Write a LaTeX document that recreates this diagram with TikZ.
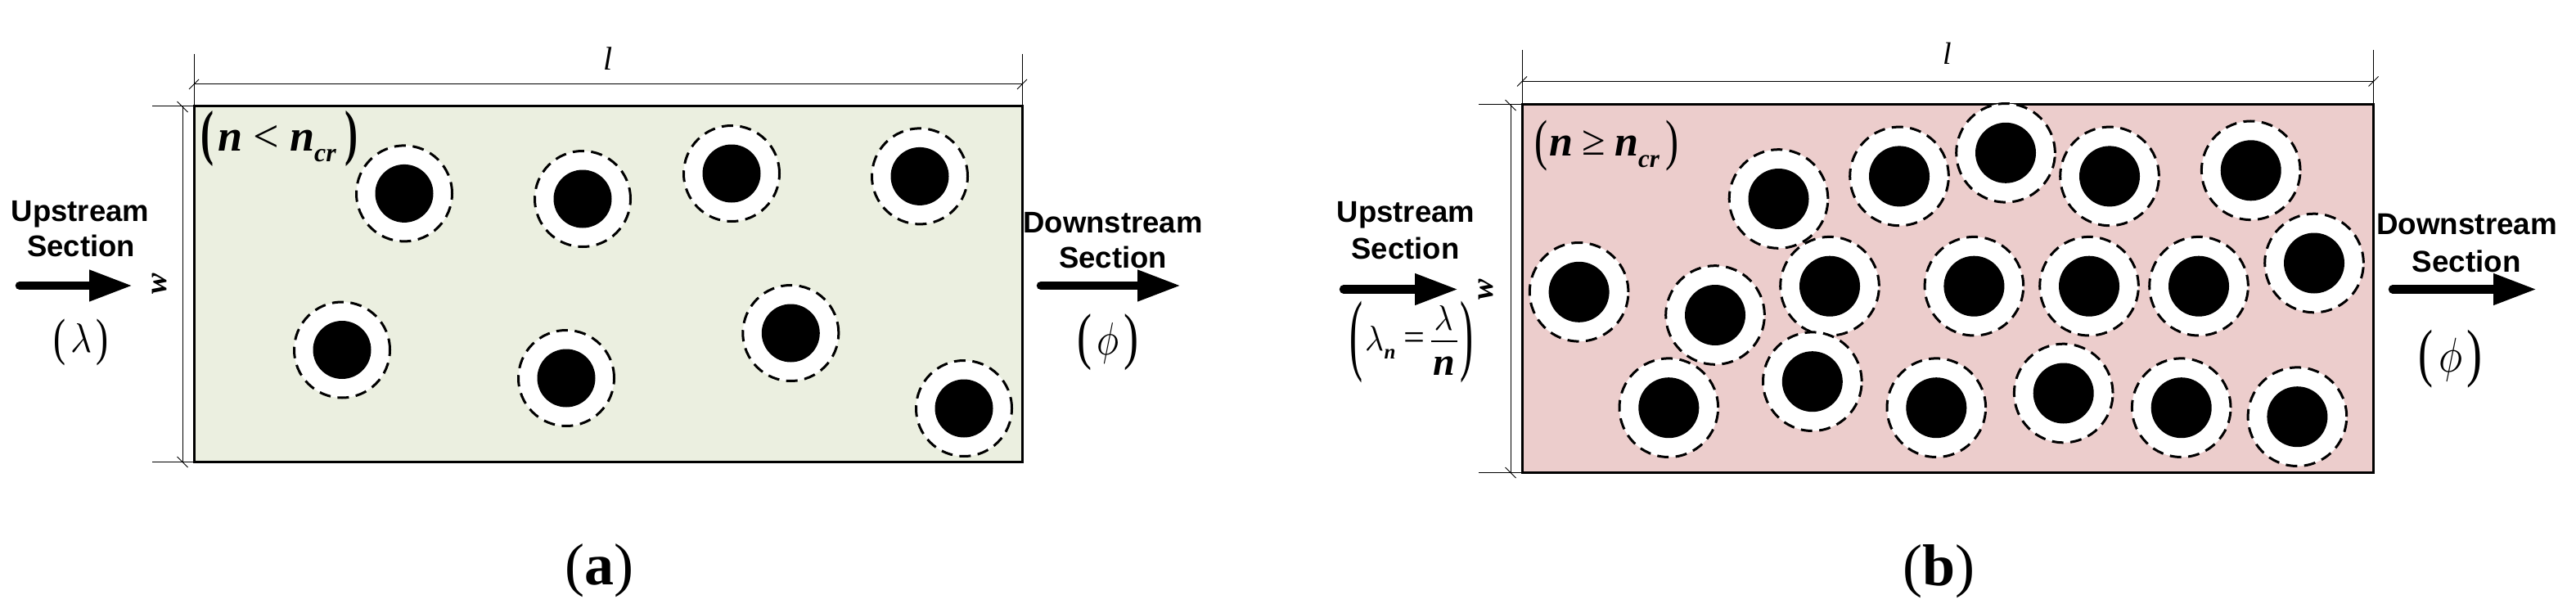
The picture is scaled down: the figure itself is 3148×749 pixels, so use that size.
\documentclass[tikz,border=0pt]{standalone}
\usepackage{fontspec}
\usepackage{graphicx}
\usepackage{amsmath}
\setmainfont{Liberation Serif}
\newfontfamily\headfont{Liberation Sans}[Ligatures=TeX]
\usetikzlibrary{arrows.meta}
\definecolor{panelgreen}{RGB}{235,239,224}
\definecolor{panelpink}{RGB}{236,205,204}
\newcommand{\fsz}[1]{\fontsize{#1}{#1}\selectfont}
\newcommand{\bi}[2]{{\fsz{#1}\bfseries\itshape #2}}
\newcommand{\tall}[3]{\resizebox*{#1pt}{#2pt}{#3}}
\tikzset{
  x=1pt,y=-1pt,
  panela/.style={draw=black,line width=3pt,fill=panelgreen,rectangle,anchor=north west,inner sep=0pt,outer sep=0pt,minimum width=1012.5pt,minimum height=434pt},
  panelb/.style={draw=black,line width=3pt,fill=panelpink,rectangle,anchor=north west,inner sep=0pt,outer sep=0pt,minimum width=1040.5pt,minimum height=449.5pt},
  halo/.style={circle,fill=white,draw=black,line width=3pt,dash pattern=on 14pt off 8.5pt,inner sep=0pt,outer sep=0pt},
  core/.style={circle,fill=black,inner sep=0pt,outer sep=0pt},
  dim/.style={draw=black,line width=1pt},
  flow/.style={line width=10.5pt,line cap=round,-{Triangle[length=53pt,width=36pt]}},
  head/.style={font=\headfont\bfseries\fsz{36.5},anchor=base,inner sep=0pt},
  txt/.style={anchor=center,inner sep=0pt},
  base/.style={anchor=base,inner sep=0pt},
  basew/.style={anchor=base west,inner sep=0pt},
}
\begin{document}
\begin{tikzpicture}
\useasboundingbox (0,0) rectangle (3148,749);
\fill[white] (0,0) rectangle (3148,749);

% ---------- panel (a)
\node[panela] (pa) at (237,130) {};
\foreach \n/\x/\y in {1/494/236.4,2/712/243,3/418/427.5,4/692/462,5/894/212,6/1124/215.4,7/966.3/407,8/1178/499}{
  \node[halo,minimum size=117pt] (ha\n) at (\x,\y) {};
  \node[core,minimum size=71pt] (ca\n) at (\x,\y) {};
}
% dimensions (a)
\coordinate (aT) at (237,103);
\coordinate (aTr) at (1249,103);
\coordinate (aL) at (223,130.5);
\coordinate (aLb) at (223,564.5);
\draw[dim] (aT) -- (aTr);
\draw[dim] (pa.north west) -- ++(0,-64);
\draw[dim] (pa.north east) -- ++(0,-64);
\draw[dim] (aT) ++(-6,6) -- ++(12,-12);
\draw[dim] (aTr) ++(-6,6) -- ++(12,-12);
\draw[dim] (aL) -- (aLb);
\draw[dim] (pa.north west) -- ++(-51,0);
\draw[dim] (pa.south west) -- ++(-51,0);
\draw[dim] (aL) ++(-6.5,-6.5) -- ++(13,13);
\draw[dim] (aLb) ++(-6.5,-6.5) -- ++(13,13);
\node[txt] (la) at (743,72) {\fsz{40}\itshape l};
\node[txt,rotate=90] (wa) at (195,347) {\bi{38}{w}};

\node[txt] (lpa) at (253,169) {\tall{16}{68}{\bfseries (}};
\node[basew] (na) at (266,184) {\bi{54}{n}};
\node[txt] (lta) at (325,169) {\fsz{56}<};
\node[basew] (nb) at (354,184) {\bi{54}{n}};
\node[basew] (cra) at (384,197) {\bi{32}{cr}};
\node[txt] (rpa) at (429,169) {\tall{16}{68}{\bfseries )}};

% left/right of (a)
\node[head] (ua1) at (98,270) {Upstream};
\node[head] (ua2) at (99,313) {Section};
\coordinate (fa1) at (24,349);
\coordinate (fa2) at (162,349);
\draw[flow] (fa1) -- (fa2);
\node[txt] (lpb) at (72.5,418) {\tall{15}{57}{(}};
\node[txt] (lam) at (100,412.7) {\tall{26}{35}{$\lambda$}};
\node[txt] (rpb) at (125,418) {\tall{15}{57}{)}};

\node[head] (da1) at (1360,284) {Downstream};
\node[head] (da2) at (1360,327) {Section};
\coordinate (fb1) at (1272,349);
\coordinate (fb2) at (1443,349);
\draw[flow] (fb1) -- (fb2);
\node[txt] (lpc) at (1325.5,418) {\tall{18}{69}{(}};
\node[txt] (phia) at (1353.5,419) {\tall{27}{50}{$\phi$}};
\node[txt] (rpc) at (1382,418) {\tall{18}{69}{)}};

\node[base] (capa) at (732.5,714) {\fsz{72}(\textbf{a})};

% ---------- panel (b)
\node[panelb] (pb) at (1860,128) {};
\foreach \n/\x/\y in {A/1929.6/356.8,B/2096/385,C/2039.3/498.2,D/2173.5/243,E/2236/349.7,F/2214.8/466.2,G/2321/215.4,H/2366.3/498.2,I/2412.4/349.7,J/2451/186.8,K/2578/215.4,L/2750.7/208.3,M/2828/321.5,N/2553/349.7,O/2687/349.7,P/2521.7/480.5,Q/2665.7/498.2,R/2807.4/509.2}{
  \node[halo,minimum size=120.6pt] (hb\n) at (\x,\y) {};
  \node[core,minimum size=74pt] (cb\n) at (\x,\y) {};
}
% dimensions (b)
\coordinate (bT) at (1860,99.5);
\coordinate (bTr) at (2900.5,99.5);
\coordinate (bL) at (1846,128.5);
\coordinate (bLb) at (1846,577.5);
\draw[dim] (bT) -- (bTr);
\draw[dim] (pb.north west) -- ++(0,-67);
\draw[dim] (pb.north east) -- ++(0,-67);
\draw[dim] (bT) ++(-6,6) -- ++(12,-12);
\draw[dim] (bTr) ++(-6,6) -- ++(12,-12);
\draw[dim] (bL) -- (bLb);
\draw[dim] (pb.north west) -- ++(-53,0);
\draw[dim] (pb.south west) -- ++(-53,0);
\draw[dim] (bL) ++(-6.5,-6.5) -- ++(13,13);
\draw[dim] (bLb) ++(-6.5,-6.5) -- ++(13,13);
\node[txt] (lb) at (2379.6,65) {\fsz{38}\itshape l};
\node[txt,rotate=90] (wb) at (1816,353.5) {\bi{38}{w}};

\node[txt] (lpd) at (1883,178) {\tall{16}{62}{(}};
\node[basew] (nc) at (1893,190) {\bi{52}{n}};
\node[txt] (geb) at (1947.5,175) {\fsz{52}≥};
\node[basew] (nd) at (1973,190) {\bi{52}{n}};
\node[basew] (crb) at (2002,204.5) {\bi{31}{cr}};
\node[txt] (rpd) at (2043,178) {\tall{16}{62}{)}};

\node[head] (ub1) at (1718,271) {Upstream};
\node[head] (ub2) at (1717.5,316) {Section};
\coordinate (fc1) at (1642,353.5);
\coordinate (fc2) at (1782,353.5);
\draw[flow] (fc1) -- (fc2);
\node[txt] (lpe) at (1657,417.5) {\tall{16}{100}{(}};
\node[txt] (lamn) at (1679.5,413) {\tall{23}{30}{$\lambda$}};
\node[basew] (nsub) at (1691.5,438) {\bi{25}{n}};
\node[txt] (eqb) at (1728.5,417) {\fsz{46}=};
\coordinate (frac1) at (1749,416.7);
\coordinate (frac2) at (1781,416.7);
\draw[line width=1.6pt] (frac1) -- (frac2);
\node[txt] (lamt) at (1764,388) {\tall{23}{30}{$\lambda$}};
\node[base] (nden) at (1765,458.7) {\bi{48}{n}};
\node[txt] (rpe) at (1792,417.5) {\tall{16}{100}{)}};

\node[head,font=\headfont\bfseries\fsz{36.8}] (db1) at (3014.7,286.6) {Downstream};
\node[head,font=\headfont\bfseries\fsz{36.8}] (db2) at (3014,332) {Section};
\coordinate (fd1) at (2924,353.5);
\coordinate (fd2) at (3100,353.5);
\draw[flow] (fd1) -- (fd2);
\node[txt] (lpf) at (2964,439) {\tall{18}{71}{(}};
\node[txt] (phib) at (2994.5,439.5) {\tall{29}{53}{$\phi$}};
\node[txt] (rpf) at (3024,439) {\tall{19}{71}{)}};

\node[base] (capb) at (2369.5,715) {\fsz{72}(\textbf{b})};
\end{tikzpicture}
\end{document}
